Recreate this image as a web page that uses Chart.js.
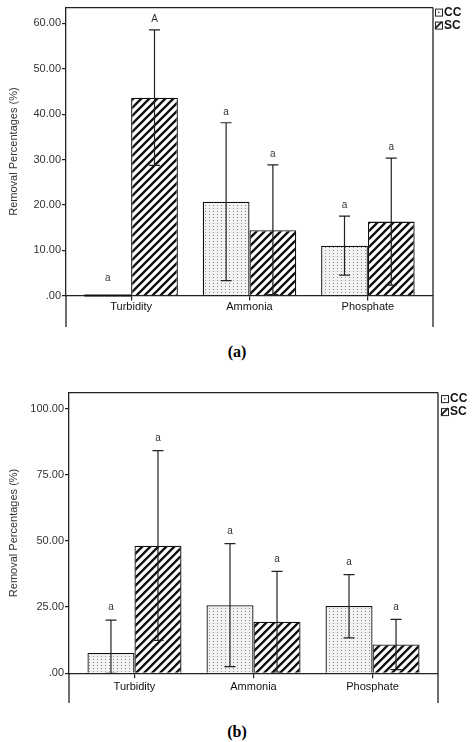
<!DOCTYPE html>
<html><head><meta charset="utf-8">
<script src="https://cdn.jsdelivr.net/npm/chart.js@4/dist/chart.umd.min.js"></script>
<style>
html,body{margin:0;padding:0;background:#fff;width:474px;height:742px;overflow:hidden;}
canvas{position:absolute;left:0;}
.cap{position:absolute;left:0;width:474px;text-align:center;font:bold 16px "Liberation Serif","DejaVu Serif",serif;line-height:16px;color:#000;}
</style></head><body>
<canvas id="cA" width="474" height="330" style="top:0px"></canvas>
<div class="cap" style="top:344px">(a)</div>
<canvas id="cB" width="474" height="330" style="top:385px"></canvas>
<div class="cap" style="top:724px">(b)</div>
<script>
// ---------- data ----------
const categories = ['Turbidity', 'Ammonia', 'Phosphate'];
const seriesNames = ['CC', 'SC'];
const yTitle = 'Removal Percentages (%)';

// chart (a)
const ccA      = [0, 20.7, 11.0];
const scA      = [43.6, 14.4, 16.3];
const ccLowA   = [0, 3.3, 4.5];
const ccHighA  = [0, 38.1, 17.5];
const scLowA   = [28.7, 0.2, 2.3];
const scHighA  = [58.6, 28.8, 30.3];
const ccLetterA = ['a', 'a', 'a'];
const scLetterA = ['A', 'a', 'a'];
const yTicksA  = [0, 10, 20, 30, 40, 50, 60];

// chart (b)
const ccB      = [7.7, 25.7, 25.4];
const scB      = [48.2, 19.5, 10.9];
const ccLowB   = [0, 2.5, 13.4];
const ccHighB  = [20.1, 49.0, 37.3];
const scLowB   = [12.4, 0.5, 1.4];
const scHighB  = [84.1, 38.5, 20.4];
const ccLetterB = ['a', 'a', 'a'];
const scLetterB = ['a', 'a', 'a'];
const yTicksB  = [0, 25, 50, 75, 100];

// ---------- styles ----------
Chart.defaults.font.family = '"Liberation Sans", Arial, sans-serif';

function makeDots() {
  const c = document.createElement('canvas'); c.width = 4; c.height = 3;
  const g = c.getContext('2d');
  g.fillStyle = '#f2f2f2'; g.fillRect(0, 0, 4, 3);
  g.fillStyle = '#8c8c8c'; g.fillRect(1, 1, 1, 1);
  return g.createPattern(c, 'repeat');
}
function makeHatch() {
  const s = 8;
  const c = document.createElement('canvas'); c.width = s; c.height = s;
  const g = c.getContext('2d');
  g.fillStyle = '#fff'; g.fillRect(0, 0, s, s);
  g.strokeStyle = '#111'; g.lineWidth = 2.3; g.lineCap = 'square';
  g.beginPath();
  g.moveTo(0, s); g.lineTo(s, 0);
  g.moveTo(-2, 2); g.lineTo(2, -2);
  g.moveTo(s - 2, s + 2); g.lineTo(s + 2, s - 2);
  g.stroke();
  return g.createPattern(c, 'repeat');
}
const dotPattern = makeDots();
const hatchPattern = makeHatch();

function fmt(v) { return v === 0 ? '.00' : v.toFixed(2); }

const framePlugin = {
  id: 'frame',
  afterDatasetsDraw(chart) {
    const ctx = chart.ctx, ys = chart.scales.y, opt = chart.options.plugins.frame;
    ctx.save();
    chart.data.datasets.forEach((ds, di) => {
      const meta = chart.getDatasetMeta(di);
      meta.data.forEach((el, i) => {
        const v = ds.data[i].y;
        if (v === 0) {
          ctx.strokeStyle = '#111'; ctx.lineWidth = 2;
          ctx.beginPath(); ctx.moveTo(el.x - el.width / 2, ys.getPixelForValue(0)); ctx.lineTo(el.x + el.width / 2, ys.getPixelForValue(0)); ctx.stroke();
        }
        const lo = ds.low[i], hi = ds.high[i];
        let topPix = ys.getPixelForValue(Math.max(v, hi));
        if (hi > lo) {
          const yl = ys.getPixelForValue(lo), yh = ys.getPixelForValue(hi);
          ctx.strokeStyle = '#222'; ctx.lineWidth = 1.2;
          ctx.beginPath();
          ctx.moveTo(el.x, yl); ctx.lineTo(el.x, yh);
          ctx.moveTo(el.x - 5.5, yh); ctx.lineTo(el.x + 5.5, yh);
          ctx.moveTo(el.x - 5.5, yl); ctx.lineTo(el.x + 5.5, yl);
          ctx.stroke();
        }
        const off = (v === 0 && hi === 0) ? 17 : opt.letterOff;
        ctx.fillStyle = '#333'; ctx.font = '10px "Liberation Sans", Arial, sans-serif';
        ctx.textAlign = 'center'; ctx.textBaseline = 'middle';
        ctx.fillText(ds.letters[i], el.x, topPix - off);
      });
    });
    ctx.restore();
  },
  afterDraw(chart) {
    const ctx = chart.ctx, a = chart.chartArea, opt = chart.options.plugins.frame;
    ctx.save();
    ctx.strokeStyle = '#222'; ctx.lineWidth = 1.3;
    ctx.beginPath();
    ctx.moveTo(a.left, a.bottom); ctx.lineTo(a.left, a.bottom + opt.ext);
    ctx.moveTo(a.left, a.top); ctx.lineTo(a.right, a.top);
    ctx.moveTo(a.right, a.top); ctx.lineTo(a.right, a.bottom + opt.ext);
    ctx.stroke();
    // legend
    const lx = a.right + opt.legDx;
    chart.data.datasets.forEach((ds, di) => {
      const cy = a.top + opt.legDy + di * 13;
      const bx = lx, by = cy - 3.5;
      ctx.fillStyle = '#fff'; ctx.fillRect(bx, by, 7, 7);
      ctx.strokeStyle = '#222'; ctx.lineWidth = 1;
      if (di === 0) {
        ctx.fillStyle = '#555'; ctx.fillRect(bx + 3, by + 3, 1.5, 1.5);
      } else {
        ctx.beginPath(); ctx.lineWidth = 2; ctx.moveTo(bx, by + 7); ctx.lineTo(bx + 7, by); ctx.stroke();
        ctx.lineWidth = 1;
      }
      ctx.strokeRect(bx + 0.5, by + 0.5, 7, 7);
      ctx.fillStyle = '#111'; ctx.font = 'bold 12px "Liberation Sans", Arial, sans-serif';
      ctx.textAlign = 'left'; ctx.textBaseline = 'middle';
      ctx.fillText(ds.label, bx + 9, cy + 0.5);
    });
    ctx.restore();
  }
};

function makeChart(id, c) {
  return new Chart(document.getElementById(id), {
    type: 'bar',
    data: {
      datasets: [
        { label: seriesNames[0], data: c.cc.map((v, i) => ({ x: i, y: v })), backgroundColor: dotPattern,
          borderColor: '#111', borderWidth: 1.3, low: c.ccLow, high: c.ccHigh, letters: c.ccL },
        { label: seriesNames[1], data: c.sc.map((v, i) => ({ x: i, y: v })), backgroundColor: hatchPattern,
          borderColor: '#111', borderWidth: 1.3, low: c.scLow, high: c.scHigh, letters: c.scL }
      ]
    },
    options: {
      responsive: false, animation: false,
      layout: { padding: { top: c.padTop, right: c.padRight, left: 0, bottom: 0 } },
      datasets: { bar: { categoryPercentage: 0.79, barPercentage: 1 } },
      plugins: { legend: { display: false }, tooltip: { enabled: false },
        frame: { ext: c.ext, letterOff: c.letterOff, legDx: c.legDx, legDy: c.legDy } },
      scales: {
        x: {
          type: 'linear', min: -0.55, max: 2.55, offset: false,
          afterBuildTicks: s => { s.ticks = categories.map((n, i) => ({ value: i })); },
          afterFit: s => { s.height = c.xH; },
          ticks: { callback: v => categories[v], font: { size: 11 }, color: '#111', padding: c.xPad, autoSkip: false, maxRotation: 0 },
          grid: { offset: false, drawOnChartArea: false, drawTicks: true, tickLength: 5, color: '#222', lineWidth: 1.2 },
          border: { display: true, color: '#222', width: 1.3 }
        },
        y: {
          min: 0, max: c.yMax,
          afterBuildTicks: s => { s.ticks = c.yTicks.map(v => ({ value: v })); },
          afterFit: s => { s.width = c.yW; },
          ticks: { callback: v => fmt(v), font: { size: 11 }, color: '#333', padding: 1 },
          grid: { drawOnChartArea: false, drawTicks: true, tickLength: 4, color: '#222', lineWidth: 1.2 },
          border: { display: true, color: '#222', width: 1.3 },
          title: { display: true, text: yTitle, font: { size: 11 }, color: '#333', padding: { top: 7, bottom: 0 } }
        }
      }
    },
    plugins: [framePlugin]
  });
}

makeChart('cA', { cc: ccA, sc: scA, ccLow: ccLowA, ccHigh: ccHighA, scLow: scLowA, scHigh: scHighA,
  ccL: ccLetterA, scL: scLetterA, yTicks: yTicksA, yMax: 63.5, padTop: 4, padRight: 41, yW: 66,
  xH: 34.5, xPad: 0, ext: 31.5, letterOff: 10.5, legDx: 2, legDy: 4.5 });
makeChart('cB', { cc: ccB, sc: scB, ccLow: ccLowB, ccHigh: ccHighB, scLow: scLowB, scHigh: scHighB,
  ccL: ccLetterB, scL: scLetterB, yTicks: yTicksB, yMax: 106, padTop: 4, padRight: 36, yW: 69,
  xH: 41.7, xPad: 2, ext: 29.7, letterOff: 12.5, legDx: 3, legDy: 6 });
</script>
</body></html>
